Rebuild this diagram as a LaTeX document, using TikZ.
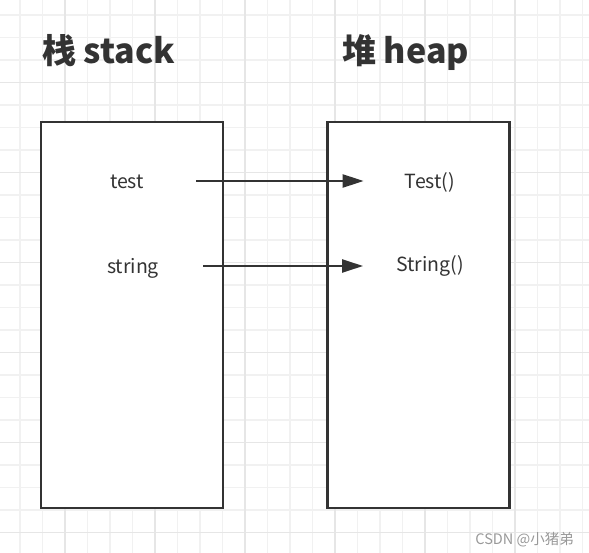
\documentclass[tikz,border=0pt]{standalone}
\usepackage{fontspec}
\setmainfont{Noto Sans CJK SC}
\usetikzlibrary{arrows.meta}
\definecolor{ink}{HTML}{333333}
\definecolor{minorgrid}{HTML}{F1F1F1}
\definecolor{majorgrid}{HTML}{E6E6E6}

\begin{document}
\begin{tikzpicture}[x=1pt,y=-1pt,
	memory/.style={draw=ink,line width=2.5pt,fill=white,inner sep=0pt,minimum width=182pt,minimum height=386pt},
	title/.style={font=\fontsize{34}{40}\selectfont\bfseries,text=ink,inner sep=0pt,anchor=base west},
	var/.style={font=\fontsize{19.5}{23}\selectfont,text=ink,inner sep=0pt,text height=16pt,text depth=0pt},
	ptr/.style={draw=ink,line width=2.2pt,-{Triangle[length=21pt,width=13pt]}}]
\useasboundingbox (0,0) rectangle (589,553);
\fill[white] (0,0) rectangle (589,553);
% grid paper
\foreach \i in {0,...,25} \draw[minorgrid,line width=1.2pt] ({20+22.5*\i},0)--({20+22.5*\i},553);
\foreach \j in {0,...,23} \draw[minorgrid,line width=1.2pt] (0,{15+22.5*\j})--(589,{15+22.5*\j});
\foreach \i in {0,...,5} \draw[majorgrid,line width=1.2pt] ({65+90*\i},0)--({65+90*\i},553);
\foreach \j in {0,...,5} \draw[majorgrid,line width=1.2pt] (0,{82.5+90*\j})--(589,{82.5+90*\j});
% titles
\node[title] (stacktitle) at (42,64) {栈 stack};
\node[title] (heaptitle) at (342,64) {堆 heap};
% the two memory areas
\node[memory] (stack) at (132,315) {};
\node[memory] (heap) at (418.5,315) {};
% variables and objects
\node[var] (test) at (127,181) {test};
\node[var] (string) at (133,266) {string};
\node[var] (testobj) at (430,181) {Test()};
\node[var] (stringobj) at (430,264) {String()};
% references
\draw[ptr] ([xshift=52pt]test.east) -- ([xshift=-41pt]testobj.west);
\draw[ptr] ([xshift=44pt]string.east) -- ([xshift=-33pt]stringobj.west |- string.east);
% watermark
\node[font=\fontsize{14.5}{17}\selectfont,text=gray!80,anchor=base east,inner sep=0pt] (mark) at (574,544) {CSDN @小猪弟};
\end{tikzpicture}
\end{document}
